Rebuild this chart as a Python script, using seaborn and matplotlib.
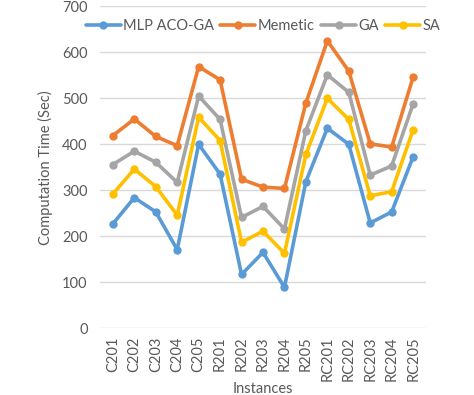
import numpy as np
import pandas as pd
import seaborn as sns
import matplotlib.pyplot as plt

instances = ['C201', 'C202', 'C203', 'C204', 'C205',
             'R201', 'R202', 'R203', 'R204', 'R205',
             'RC201', 'RC202', 'RC203', 'RC204', 'RC205']

mlp_aco_ga = [227, 284, 253, 171, 400, 335, 117, 165, 89, 319, 435, 400, 229, 253, 373]
memetic = [419, 455, 417, 397, 569, 540, 324, 307, 304, 490, 625, 559, 401, 394, 546]
ga = [356, 385, 361, 317, 505, 454, 241, 265, 216, 430, 551, 513, 333, 353, 488]
sa = [292, 346, 308, 246, 459, 408, 187, 211, 163, 378, 500, 454, 288, 297, 432]

methods = ['MLP ACO-GA', 'Memetic', 'GA', 'SA']
colors = ['#5B9BD5', '#ED7D31', '#A5A5A5', '#FFC000']


def main():
    df = pd.DataFrame({
        'Instances': instances * 4,
        'Time': mlp_aco_ga + memetic + ga + sa,
        'Method': np.repeat(methods, len(instances)),
    })

    sns.set_style('white')
    plt.rcParams['font.family'] = ['Lato', 'DejaVu Sans']

    fig = plt.figure(figsize=(4.74, 3.95), dpi=100)
    ax = fig.add_axes([100 / 474, 1 - 328.3 / 395, 326 / 474, 322 / 395])

    sns.lineplot(data=df, x='Instances', y='Time', hue='Method',
                 hue_order=methods, palette=colors, marker='o',
                 markersize=6, markeredgewidth=0, linewidth=2.6,
                 sort=False, ax=ax)

    ax.set_ylim(0, 700)
    ax.set_xlim(-0.6, len(instances) - 0.4)
    ax.set_yticks(range(0, 701, 100))
    ax.yaxis.grid(True, color='#D9D9D9', linewidth=1)
    ax.set_axisbelow(True)
    for s in ax.spines.values():
        s.set_visible(False)
    ax.tick_params(axis='both', length=0, colors='#595959', labelsize=10.5)
    ax.tick_params(axis='y', pad=9)
    ax.tick_params(axis='x', pad=6)
    plt.setp(ax.get_xticklabels(), rotation=90)

    ax.set_xlabel('Instances', color='#595959', fontsize=10.5, va='center')
    ax.set_ylabel('Computation Time (Sec)', color='#595959', fontsize=10.5,
                  va='center')
    ax.xaxis.set_label_coords(0.5, -0.19)
    ax.yaxis.set_label_coords(-0.166, 0.5)

    ax.legend(loc='upper center', bbox_to_anchor=(0.5, 1.0), ncol=4,
              frameon=False, fontsize=10.5, handlelength=2.4,
              handletextpad=0.15, columnspacing=0.45, labelcolor='#595959',
              borderaxespad=0.45)

    fig.savefig('out.png', dpi=100)


if __name__ == '__main__':
    main()
